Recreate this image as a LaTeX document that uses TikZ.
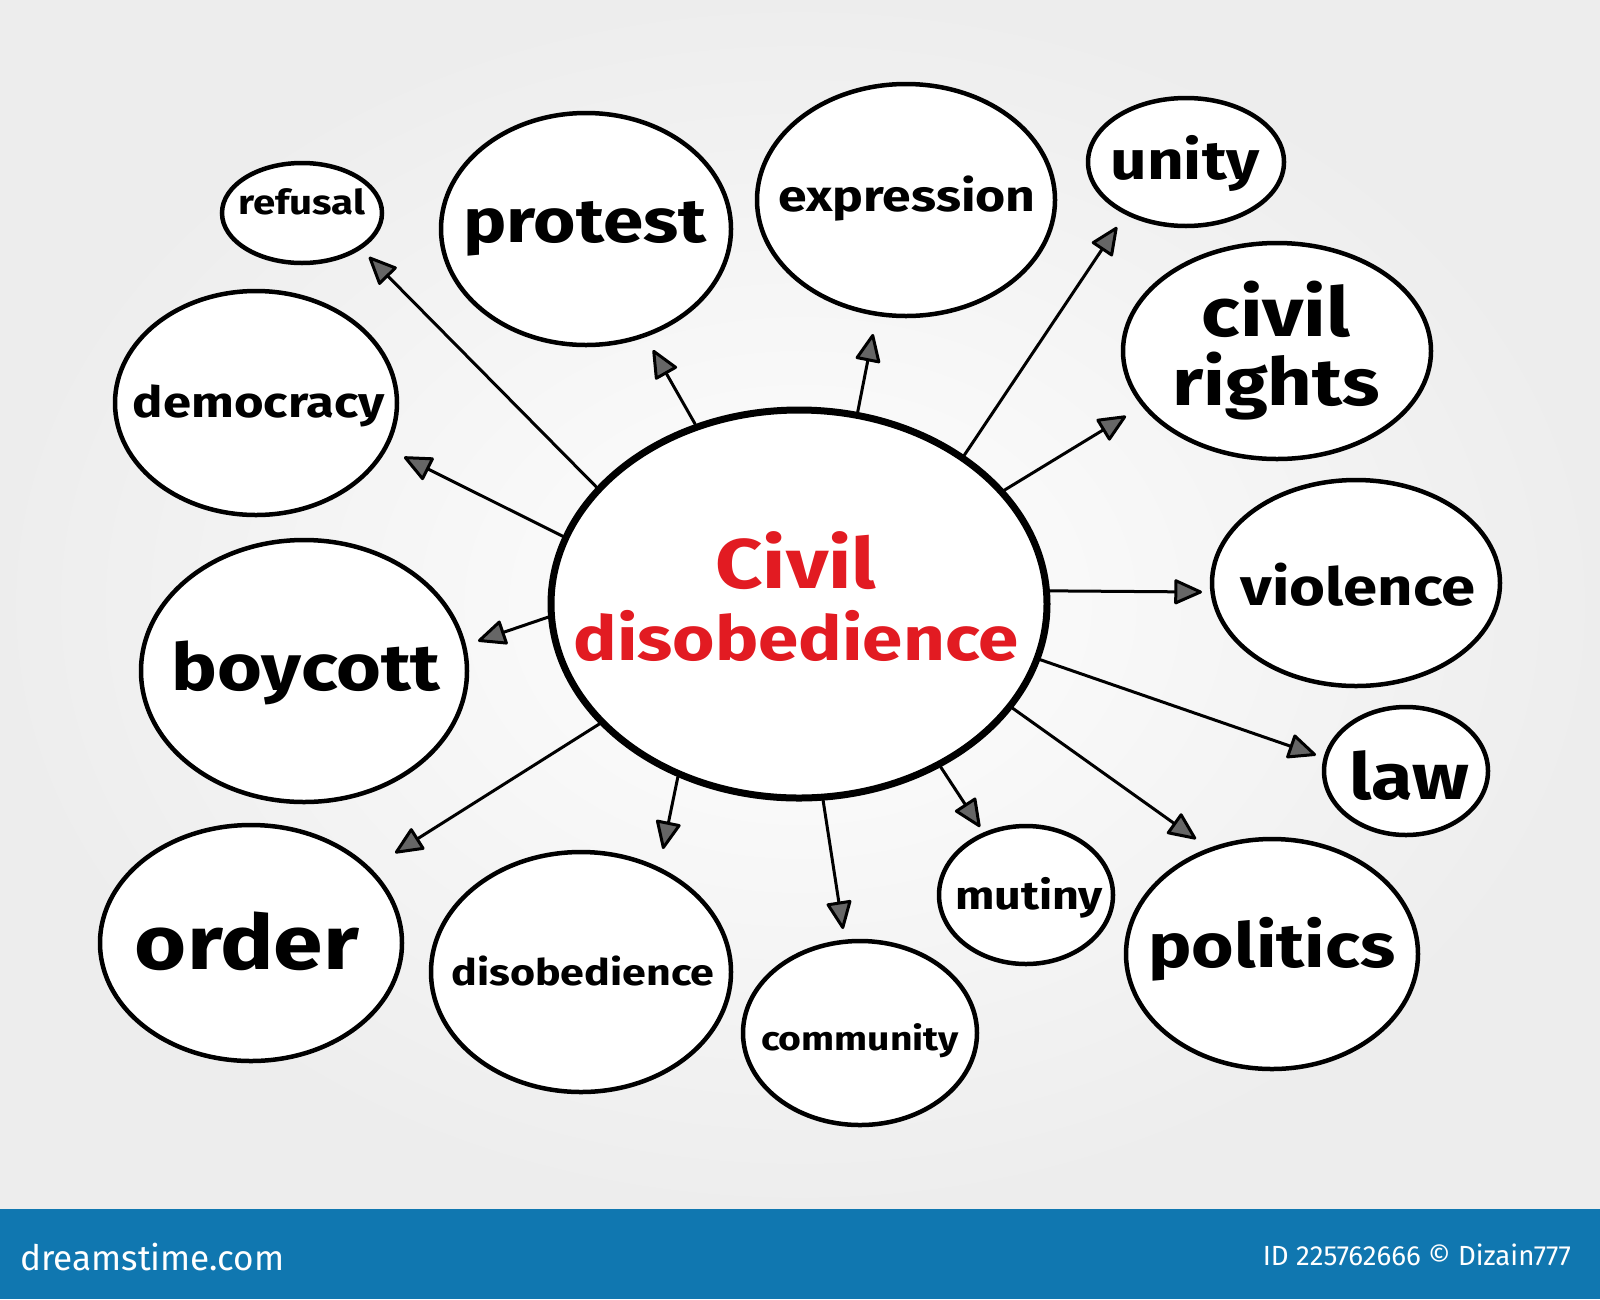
\documentclass[tikz,border=0pt]{standalone}
\usepackage{fontspec}
\setmainfont{Fira Sans}
\usetikzlibrary{shapes.geometric,arrows.meta}
\definecolor{cdred}{HTML}{E21B22}
\definecolor{barblue}{HTML}{1077B0}
\newcommand{\fw}[2]{\resizebox{#1pt}{!}{\scalebox{1}[0.85]{#2}}}
\begin{document}
\begin{tikzpicture}[x=1pt,y=-1pt,
  bub/.style={draw, ellipse, line width=4.5pt, inner sep=0pt, fill=white},
  lbl/.style={inner sep=0pt, font=\bfseries},
  arr/.style={line width=3pt, line cap=round,
    -{Triangle[length=30pt,width=26pt,line width=3pt,fill=black!60,round]}}]
\useasboundingbox (0,0) rectangle (1600,1299);
\shade[inner color=white, outer color=black!7] (0,0) rectangle (1600,1209);
\fill[barblue] (0,1209) rectangle (1600,1299);
\node[inner sep=0pt, text=white, anchor=west] (brand) at (20,1257) {\resizebox{264pt}{!}{dreamstime.com}};
\node[inner sep=0pt, text=white, anchor=east] (imgid) at (1571,1255) {\resizebox{308pt}{!}{ID 225762666 © Dizain777}};

% bubbles
\node[bub, minimum width=160, minimum height=100] (refusal) at (302,213) {};
\node[bub, minimum width=290, minimum height=232] (protest) at (586,229) {};
\node[bub, minimum width=298, minimum height=232] (expression) at (906,200) {};
\node[bub, minimum width=196, minimum height=128] (unity) at (1186,162) {};
\node[bub, minimum width=308, minimum height=216] (rights) at (1277,351) {};
\node[bub, minimum width=282, minimum height=224] (democracy) at (256,403) {};
\node[bub, minimum width=288, minimum height=206] (violence) at (1356,583) {};
\node[bub, minimum width=326, minimum height=262] (boycott) at (304,671) {};
\node[bub, minimum width=164, minimum height=128] (law) at (1406,771) {};
\node[bub, minimum width=302, minimum height=236] (order) at (251,943) {};
\node[bub, minimum width=300, minimum height=240] (disob) at (581,972) {};
\node[bub, minimum width=234, minimum height=184] (community) at (860,1033) {};
\node[bub, minimum width=174, minimum height=138] (mutiny) at (1026,895) {};
\node[bub, minimum width=292, minimum height=230] (politics) at (1272,954) {};
\node[bub, line width=7pt, minimum width=496, minimum height=388] (c) at (799,604) {};

% labels
\node[lbl] (t-refusal) at (302,202) {\fw{127}{refusal}};
\node[lbl] (t-protest) at (585,229) {\fw{243}{protest}};
\node[lbl] (t-expression) at (907,199) {\fw{257}{expression}};
\node[lbl] (t-unity) at (1185,163) {\fw{149}{unity}};
\node[lbl] (t-civil) at (1276,309) {\fw{149}{civil}};
\node[lbl] (t-rights) at (1276,386) {\fw{208}{rights}};
\node[lbl] (t-democracy) at (259,406) {\fw{252}{democracy}};
\node[lbl] (t-violence) at (1358,585) {\fw{235}{violence}};
\node[lbl] (t-boycott) at (306,673) {\fw{269}{boycott}};
\node[lbl] (t-law) at (1409,776) {\fw{120}{law}};
\node[lbl] (t-order) at (247,941) {\fw{224}{order}};
\node[lbl] (t-disob) at (583,971) {\fw{263}{disobedience}};
\node[lbl] (t-community) at (860,1041) {\fw{198}{community}};
\node[lbl] (t-mutiny) at (1029,898) {\fw{148}{mutiny}};
\node[lbl] (t-politics) at (1272,949) {\fw{247}{politics}};
\node[lbl, text=cdred] (t-cciv) at (796,561) {\fw{161}{Civil}};
\node[lbl, text=cdred] (t-cdis) at (796,636) {\fw{445}{disobedience}};

% arrow tips
\coordinate (a-refusal) at (369,257);
\coordinate (a-protest) at (653,350);
\coordinate (a-expression) at (873,334);
\coordinate (a-unity) at (1117,227);
\coordinate (a-rights) at (1126,416);
\coordinate (a-democracy) at (404,457);
\coordinate (a-violence) at (1202,592);
\coordinate (a-boycott) at (478,641);
\coordinate (a-law) at (1316,755);
\coordinate (a-order) at (395,853);
\coordinate (a-disob) at (663,849);
\coordinate (a-community) at (843,929);
\coordinate (a-mutiny) at (980,827);
\coordinate (a-politics) at (1196,839);

\draw[arr] (c.150) -- (a-refusal);
\draw[arr] (c.120.7) -- (a-protest);
\draw[arr] (c.73.2) -- (a-expression);
\draw[arr] (c.42.3) -- (a-unity);
\draw[arr] (c.29.5) -- (a-rights);
\draw[arr] (c.164.2) -- (a-democracy);
\draw[arr] (c.3.5) -- (a-violence);
\draw[arr] (c.183.1) -- (a-boycott);
\draw[arr] (c.-13.2) -- (a-law);
\draw[arr] (c.211.4) -- (a-order);
\draw[arr] (c.235) -- (a-disob);
\draw[arr] (c.277.8) -- (a-community);
\draw[arr] (c.-49) -- (a-mutiny);
\draw[arr] (c.-26.2) -- (a-politics);
\end{tikzpicture}
\end{document}
